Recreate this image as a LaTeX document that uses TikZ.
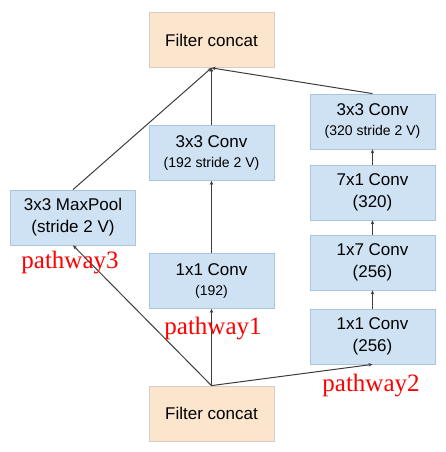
\documentclass[tikz,border=0pt]{standalone}
\usepackage{fontspec}
\setmainfont{Liberation Serif}
\setsansfont{Liberation Sans}
\usetikzlibrary{arrows.meta}
\definecolor{convblue}{RGB}{207,226,243}
\definecolor{convedge}{RGB}{172,197,222}
\definecolor{catfill}{RGB}{252,229,205}
\definecolor{catedge}{RGB}{214,205,196}
\definecolor{wire}{RGB}{60,60,60}
\tikzset{
  conv/.style={draw=convedge, fill=convblue, line width=0.8pt, minimum width=125pt, minimum height=55pt, inner sep=0pt, align=center, font=\sffamily\fontsize{17}{22}\selectfont},
  concat/.style={conv, draw=catedge, fill=catfill},
  wireto/.style={-{Stealth[length=4pt,width=3.5pt]}, draw=wire, line width=1pt},
  pathlabel/.style={text=red, font=\fontsize{25}{27}\selectfont},
}
\newcommand{\smallline}[1]{{\fontsize{14}{22}\selectfont #1}}
\begin{document}
\begin{tikzpicture}[x=1pt, y=-1pt]
    \useasboundingbox (0,0) rectangle (445,452);

    % concat boxes
    \node[concat] (top) at (211.5,40) {Filter concat};
    \node[concat] (bottom) at (211.5,413.5) {Filter concat};

    % pathway1
    \node[conv] (a1) at (211.5,281) {1x1 Conv\\[-2pt]\smallline{(192)}};
    \node[conv] (a2) at (211.5,153) {3x3 Conv\\[-2pt]\smallline{(192 stride 2 V)}};

    % pathway2
    \node[conv] (b1) at (372.5,336.5) {1x1 Conv\\(256)};
    \node[conv] (b2) at (372.5,262.5) {1x7 Conv\\(256)};
    \node[conv] (b3) at (372.5,192.5) {7x1 Conv\\(320)};
    \node[conv] (b4) at (372.5,121.5) {3x3 Conv\\[-2pt]\smallline{(320 stride 2 V)}};

    % pathway3
    \node[conv] (c1) at (73,217.5) {3x3 MaxPool\\(stride 2 V)};

    % connectors
    \coordinate (split) at (bottom.north);
    \draw[wireto] (split) -- (a1.south);
    \draw[wireto] (split) -- (b1.south);
    \draw[wireto] (split) -- (c1.south);
    \draw[wireto] (a1) -- (a2);
    \foreach \i/\j in {b1/b2,b2/b3,b3/b4} {
        \draw[wireto] (\i) -- (\j);
      }
    \draw[wireto] (a2.north) -- (top.south);
    \draw[wireto] (b4.north) -- (top.south);
    \draw[wireto] (c1.north) -- (top.south);

    % labels
    \node[pathlabel] (p3) at (70,263) {pathway3};
    \node[pathlabel] (p1) at (213,329) {pathway1};
    \node[pathlabel] (p2) at (371,386) {pathway2};
  \end{tikzpicture}
\end{document}
